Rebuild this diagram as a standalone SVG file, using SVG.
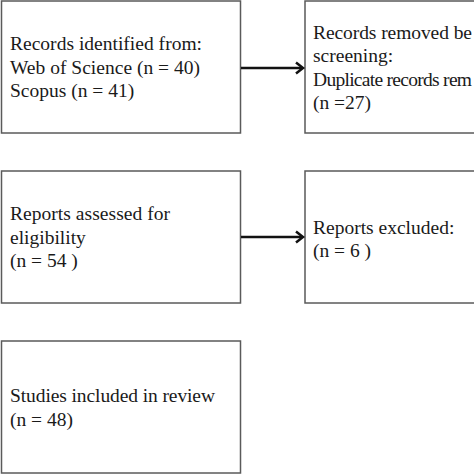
<svg xmlns="http://www.w3.org/2000/svg" width="474" height="474" viewBox="0 0 474 474">
<style>
.box{fill:#fff;stroke:#5a5a5a;stroke-width:1.5}
.t{font-family:"Liberation Serif","Times New Roman",serif;font-size:19.5px;fill:#1a1a1a}
.c{stroke:#111;stroke-width:2.5;fill:none}
</style>
<rect width="474" height="474" fill="#fff"/>
<g id="n1"><rect class="box" x="1.5" y="1" width="239" height="132"/>
<text class="t"><tspan x="10" y="50" textLength="192">Records identified from:</tspan><tspan x="10" y="73.5" textLength="190">Web of Science (n = 40)</tspan><tspan x="10" y="97">Scopus (n = 41)</tspan></text></g>
<g id="n2"><rect class="box" x="305" y="1" width="180" height="132"/>
<text class="t"><tspan x="313" y="38.5" textLength="159">Records removed be</tspan><tspan x="313" y="62">screening:</tspan><tspan x="313" y="85.5" textLength="159">Duplicate records rem</tspan><tspan x="313" y="109">(n =27)</tspan></text></g>
<g id="n3"><rect class="box" x="1.5" y="171" width="239" height="132"/>
<text class="t"><tspan x="10" y="220" textLength="160">Reports assessed for</tspan><tspan x="10" y="243.5">eligibility</tspan><tspan x="10" y="267">(n = 54 )</tspan></text></g>
<g id="n4"><rect class="box" x="305" y="171" width="180" height="132"/>
<text class="t"><tspan x="313" y="233.5">Reports excluded:</tspan><tspan x="313" y="257">(n = 6 )</tspan></text></g>
<g id="n5"><rect class="box" x="1.5" y="341" width="239" height="132"/>
<text class="t"><tspan x="10" y="402" textLength="205">Studies included in review</tspan><tspan x="10" y="425.5">(n = 48)</tspan></text></g>
<g id="connectors">
<path class="c" d="M241 68H302"/><path class="c" d="M296 62.5L303 68L296 73.5"/>
<path class="c" d="M241 237H302"/><path class="c" d="M296 231.5L303 237L296 242.5"/>
</g>
</svg>
